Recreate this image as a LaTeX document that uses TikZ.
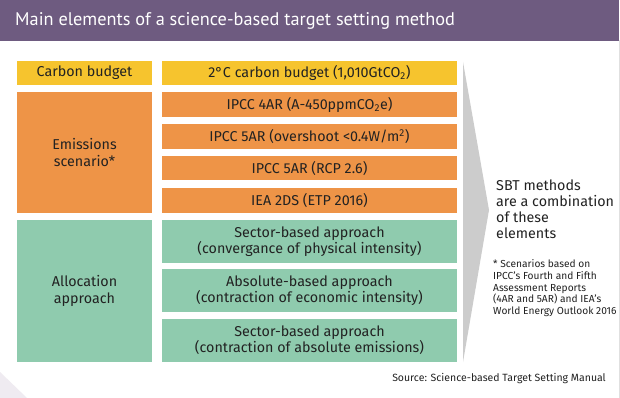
\documentclass[tikz,border=0pt]{standalone}
\usepackage{fontspec}
\setmainfont{Fira Sans}
\newfontfamily\titlefont{PT Sans}
\definecolor{purp}{HTML}{6E5B80}
\definecolor{yel}{HTML}{F6C42E}
\definecolor{ora}{HTML}{EE9447}
\definecolor{grn}{HTML}{8FCBAE}
\definecolor{txt}{HTML}{222222}
\definecolor{arr}{HTML}{CCCCCC}
\definecolor{lav}{HTML}{EFEBF1}
\tikzset{
  box/.style={draw=none, inner sep=0pt, align=center, text=txt, font=\fontsize{14.3}{16.2}\selectfont},
  lbox/.style={box, minimum width=135pt},
  rbox/.style={box, minimum width=295pt},
  note/.style={inner sep=0pt, align=left, anchor=base west, text=txt},
}
\begin{document}
\begin{tikzpicture}[x=1pt,y=-1pt]
\useasboundingbox (0,0) rectangle (620,398);
\fill[white] (0,0) rectangle (620,398);
\fill[lav] (0,372) -- (27,398) -- (0,398) -- cycle;
\draw[black!12] (619,40) -- (619,398);
\fill[purp] (0,0) rectangle (619,41);
\node[anchor=west, inner sep=0pt, text=white, font=\titlefont\fontsize{18.3}{22}\selectfont] (title) at (15,21) {Main elements of a science-based target setting method};
% left column
\node[lbox, fill=yel, minimum height=24pt] (cb) at (84.5,73) {Carbon budget};
\node[lbox, fill=ora, minimum height=121pt] (es) at (84.5,152.5) {Emissions\\scenario*};
\node[lbox, fill=grn, minimum height=142pt] (aa) at (84.5,291) {Allocation\\approach};
% right column
\node[rbox, fill=yel, minimum height=24pt] (r1) at (309.5,73) {2°C carbon budget (1,010GtCO\textsubscript{2})};
\node[rbox, fill=ora, minimum height=25pt] (e1) at (309.5,104.5) {IPCC 4AR (A-450ppmCO\textsubscript{2}e)};
\node[rbox, fill=ora, minimum height=25pt] (e2) at (309.5,136.5) {IPCC 5AR (overshoot <0.4W/m\textsuperscript{2})};
\node[rbox, fill=ora, minimum height=24pt] (e3) at (309.5,168) {IPCC 5AR (RCP 2.6)};
\node[rbox, fill=ora, minimum height=25pt] (e4) at (309.5,200.5) {IEA 2DS (ETP 2016)};
\node[rbox, fill=grn, minimum height=43pt] (g1) at (309.5,241.5) {Sector-based approach\\(convergance of physical intensity)};
\node[rbox, fill=grn, minimum height=43pt] (g2) at (309.5,290.5) {Absolute-based approach\\(contraction of economic intensity)};
\node[rbox, fill=grn, minimum height=43pt] (g3) at (309.5,340.5) {Sector-based approach\\(contraction of absolute emissions)};
% arrow
\fill[arr] (463,62) -- (489,210) -- (463,362) -- cycle;
% texts
\node[note, font=\fontsize{14.3}{16.3}\selectfont] (sbt) at (496,238.9) {SBT methods\\are a combination\\of these\\elements};
\node[note, font=\fontsize{10.2}{11.8}\selectfont] (fn) at (493,314.7) {* Scenarios based on\\IPCC's Fourth and Fifth\\Assessment Reports\\(4AR and 5AR) and IEA's\\World Energy Outlook 2016};
\node[anchor=base east, inner sep=0pt, text=txt, font=\fontsize{10.5}{12}\selectfont] (src) at (606,381) {Source: Science-based Target Setting Manual};
\end{tikzpicture}
\end{document}
